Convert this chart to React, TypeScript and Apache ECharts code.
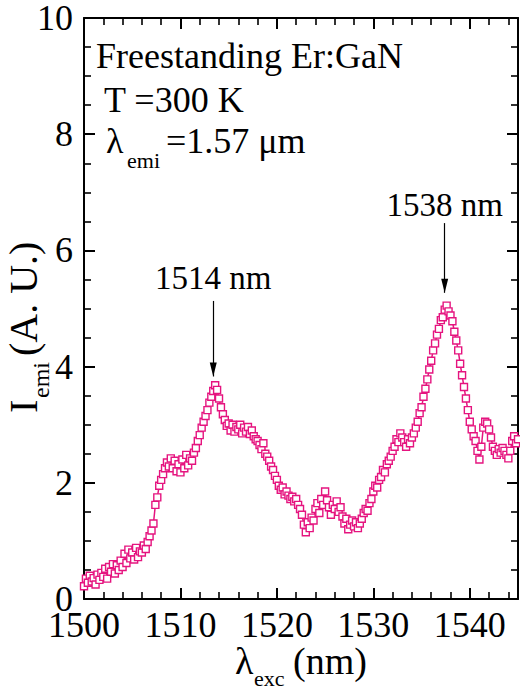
import { useEffect, useRef } from 'react';
import * as echarts from 'echarts';

// Excitation scan: wavelength grid start/step (nm) and measured emission intensity (A. U.)
const EXC_START = 1500;
const EXC_STEP = 0.2;
const intensity = [
  0.22, 0.35, 0.28, 0.40, 0.30, 0.36, 0.25, 0.42, 0.33, 0.45,
  0.38, 0.52, 0.35, 0.55, 0.47, 0.60, 0.44, 0.58, 0.50, 0.66,
  0.55, 0.78, 0.62, 0.85, 0.70, 0.80, 0.68, 0.88, 0.72, 0.82,
  0.80, 0.92, 0.86, 0.98, 1.08, 1.18, 1.30, 1.62, 1.75, 1.95,
  2.05, 2.15, 2.25, 2.35, 2.28, 2.42, 2.25, 2.38, 2.20, 2.32,
  2.18, 2.40, 2.25, 2.48, 2.30, 2.42, 2.38, 2.52, 2.60, 2.72,
  2.82, 2.95, 3.05, 3.15, 3.25, 3.38, 3.48, 3.58, 3.68, 3.60,
  3.45, 3.30, 3.18, 3.08, 2.98, 3.02, 2.90, 3.00, 2.88, 2.96,
  2.92, 3.00, 2.85, 2.95, 2.88, 2.96, 2.84, 2.90, 2.80, 2.75,
  2.72, 2.65, 2.58, 2.68, 2.50, 2.45, 2.38, 2.28, 2.22, 2.12,
  2.05, 1.95, 1.88, 1.92, 1.80, 1.85, 1.78, 1.72, 1.76, 1.68,
  1.72, 1.62, 1.55, 1.45, 1.28, 1.15, 1.32, 1.22, 1.40, 1.35,
  1.55, 1.65, 1.48, 1.72, 1.62, 1.85, 1.70, 1.58, 1.45, 1.62,
  1.55, 1.68, 1.50, 1.58, 1.42, 1.30, 1.38, 1.20, 1.28, 1.35,
  1.25, 1.32, 1.22, 1.30, 1.38, 1.48, 1.55, 1.52, 1.65, 1.72,
  1.85, 1.95, 1.92, 2.05, 2.10, 2.22, 2.18, 2.32, 2.38, 2.45,
  2.55, 2.62, 2.75, 2.70, 2.85, 2.78, 2.70, 2.62, 2.75, 2.68,
  2.78, 2.85, 2.95, 3.05, 3.20, 3.30, 3.48, 3.62, 3.78, 3.95,
  4.10, 4.28, 4.40, 4.55, 4.65, 4.80, 4.85, 4.98, 5.05, 4.95,
  4.88, 4.78, 4.60, 4.45, 4.28, 4.05, 3.85, 3.65, 3.45, 3.25,
  3.05, 2.92, 2.80, 2.72, 2.55, 2.40, 2.62, 2.95, 3.05, 3.02,
  2.92, 2.78, 2.62, 2.55, 2.48, 2.58, 2.52, 2.60, 2.55, 2.48,
  2.42, 2.55, 2.72, 2.80, 2.68, 2.75,
];

// Axis ranges
const X_MIN = 1500;
const X_MAX = 1545;
const X_MAJOR = 10;
const X_MINOR = 2;
const Y_MIN = 0;
const Y_MAX = 10;
const Y_MAJOR = 2;

// Peak annotations: arrow from top to tip, label above
const peakNames = ['1514 nm', '1538 nm'];
const peakArrowX = [1513.4, 1537.4];
const peakArrowTop = [5.13, 6.47];
const peakArrowTip = [3.83, 5.27];
const peakLabelY = [5.52, 6.78];

const PINK = '#e5147f';
const SERIF = "'Times New Roman', 'Liberation Serif', Times, 'DejaVu Serif', serif";

export default function App() {
  const ref = useRef<HTMLDivElement>(null);

  useEffect(() => {
    if (!ref.current) return;
    const chart = echarts.init(ref.current, undefined, { renderer: 'svg' });

    const points = intensity.map((v, i) => [+(EXC_START + i * EXC_STEP).toFixed(1), v]);

    const txt = (text: string, x: number, y: number, size: number, extra: any = {}) => ({
      type: 'text',
      x,
      y,
      silent: true,
      style: {
        text,
        font: `${size}px ${SERIF}`,
        fill: '#000',
        align: 'left',
        textAlign: 'left',
        verticalAlign: 'middle',
        textVerticalAlign: 'middle',
        ...extra,
      },
    });

    const frameLine = { lineStyle: { color: '#000', width: 2 } };
    const majorTick = { show: true, inside: true, length: 11, lineStyle: { color: '#000', width: 2 } };
    const minorTickStyle = { show: true, inside: true, length: 7, lineStyle: { color: '#000', width: 1.6 } };

    const xBase = { type: 'value', min: X_MIN, max: X_MAX, splitLine: { show: false }, gridIndex: 0 };
    const yBase = { type: 'value', min: Y_MIN, max: Y_MAX, interval: Y_MAJOR, splitLine: { show: false } };

    const staticGraphic: any[] = [
      // sample description
      txt('Freestanding Er:GaN', 96, 56, 36),
      txt('T =300 K', 104, 100, 36),
      txt('λ', 106, 141, 36),
      txt('emi', 127, 160, 22),
      txt('=1.57 μm', 166, 141, 36),
      // x axis title
      txt('λ', 235, 661, 38),
      txt('exc', 254, 678, 22),
      txt('(nm)', 293, 661, 38),
      // y axis title, reading bottom to top
      {
        type: 'group',
        x: 37,
        y: 413,
        rotation: Math.PI / 2,
        children: [
          txt('I', 0, -13.5, 40),
          txt('emi', 15, 4, 24),
          txt('(A. U.)', 57, -13.5, 40),
        ],
      },
    ];

    chart.setOption({
      animation: false,
      backgroundColor: '#fff',
      textStyle: { fontFamily: SERIF },
      grid: { left: 84, top: 16, width: 434, height: 583, containLabel: false },
      xAxis: [
        {
          ...xBase,
          position: 'bottom',
          interval: X_MAJOR,
          axisLine: { show: true, ...frameLine },
          axisTick: majorTick,
          axisLabel: {
            show: true,
            margin: 8,
            color: '#000',
            fontSize: 36,
            fontFamily: SERIF,
            showMaxLabel: false,
            formatter: (v: number) => String(v),
          },
        },
        {
          ...xBase,
          position: 'bottom',
          interval: X_MINOR,
          axisLine: { show: false },
          axisTick: minorTickStyle,
          axisLabel: { show: false },
        },
        {
          ...xBase,
          position: 'top',
          interval: X_MAJOR,
          axisLine: { show: true, ...frameLine },
          axisTick: majorTick,
          axisLabel: { show: false },
        },
        {
          ...xBase,
          position: 'top',
          interval: X_MINOR,
          axisLine: { show: false },
          axisTick: minorTickStyle,
          axisLabel: { show: false },
        },
      ],
      yAxis: [
        {
          ...yBase,
          position: 'left',
          axisLine: { show: true, ...frameLine },
          axisTick: majorTick,
          minorTick: { show: true, splitNumber: 4, length: 7, lineStyle: { color: '#000', width: 1.6 } },
          axisLabel: {
            show: true,
            margin: 11,
            color: '#000',
            fontSize: 36,
            fontFamily: SERIF,
            formatter: (v: number) => String(v),
          },
        },
        {
          ...yBase,
          position: 'right',
          axisLine: { show: true, ...frameLine },
          axisTick: majorTick,
          minorTick: { show: true, splitNumber: 4, length: 7, lineStyle: { color: '#000', width: 1.6 } },
          axisLabel: { show: false },
        },
      ],
      series: [
        {
          type: 'line',
          xAxisIndex: 0,
          yAxisIndex: 0,
          data: points,
          symbol: 'rect',
          symbolSize: 7,
          showSymbol: true,
          showAllSymbol: true,
          lineStyle: { color: PINK, width: 1.5 },
          itemStyle: { color: '#fff', borderColor: PINK, borderWidth: 1.4 },
          emphasis: { disabled: true },
          clip: true,
          markLine: {
            silent: true,
            symbol: ['none', 'none'],
            lineStyle: { color: '#000', width: 1.2, type: 'solid' },
            label: { show: false },
            data: peakArrowX.map((x, i) => [
              { coord: [x, peakArrowTop[i]] },
              { coord: [x, peakArrowTip[i]] },
            ]),
          },
          markPoint: {
            silent: true,
            symbol: 'rect',
            symbolSize: 1,
            itemStyle: { color: 'rgba(0,0,0,0)' },
            label: {
              show: true,
              position: 'inside',
              formatter: '{b}',
              color: '#000',
              fontSize: 33,
              fontFamily: SERIF,
            },
            data: peakNames.map((name, i) => ({ name, coord: [peakArrowX[i], peakLabelY[i]] })),
          },
        },
      ],
      graphic: staticGraphic,
    });

    // arrowheads placed through the chart's own coordinate conversion
    const heads = peakArrowX.map((x, i) => {
      const tip = chart.convertToPixel({ xAxisIndex: 0, yAxisIndex: 0 }, [x, peakArrowTip[i]]) as number[];
      return {
        type: 'polygon',
        silent: true,
        shape: {
          points: [
            [tip[0], tip[1]],
            [tip[0] - 3.5, tip[1] - 14],
            [tip[0] + 3.5, tip[1] - 14],
          ],
        },
        style: { fill: '#000' },
        z: 10,
      };
    });
    chart.setOption({ graphic: [...staticGraphic, ...heads] });

    return () => chart.dispose();
  }, []);

  return (
    <div
      ref={ref}
      style={{ position: 'fixed', left: 0, top: 0, width: 520, height: 690, background: '#fff' }}
    />
  );
}
